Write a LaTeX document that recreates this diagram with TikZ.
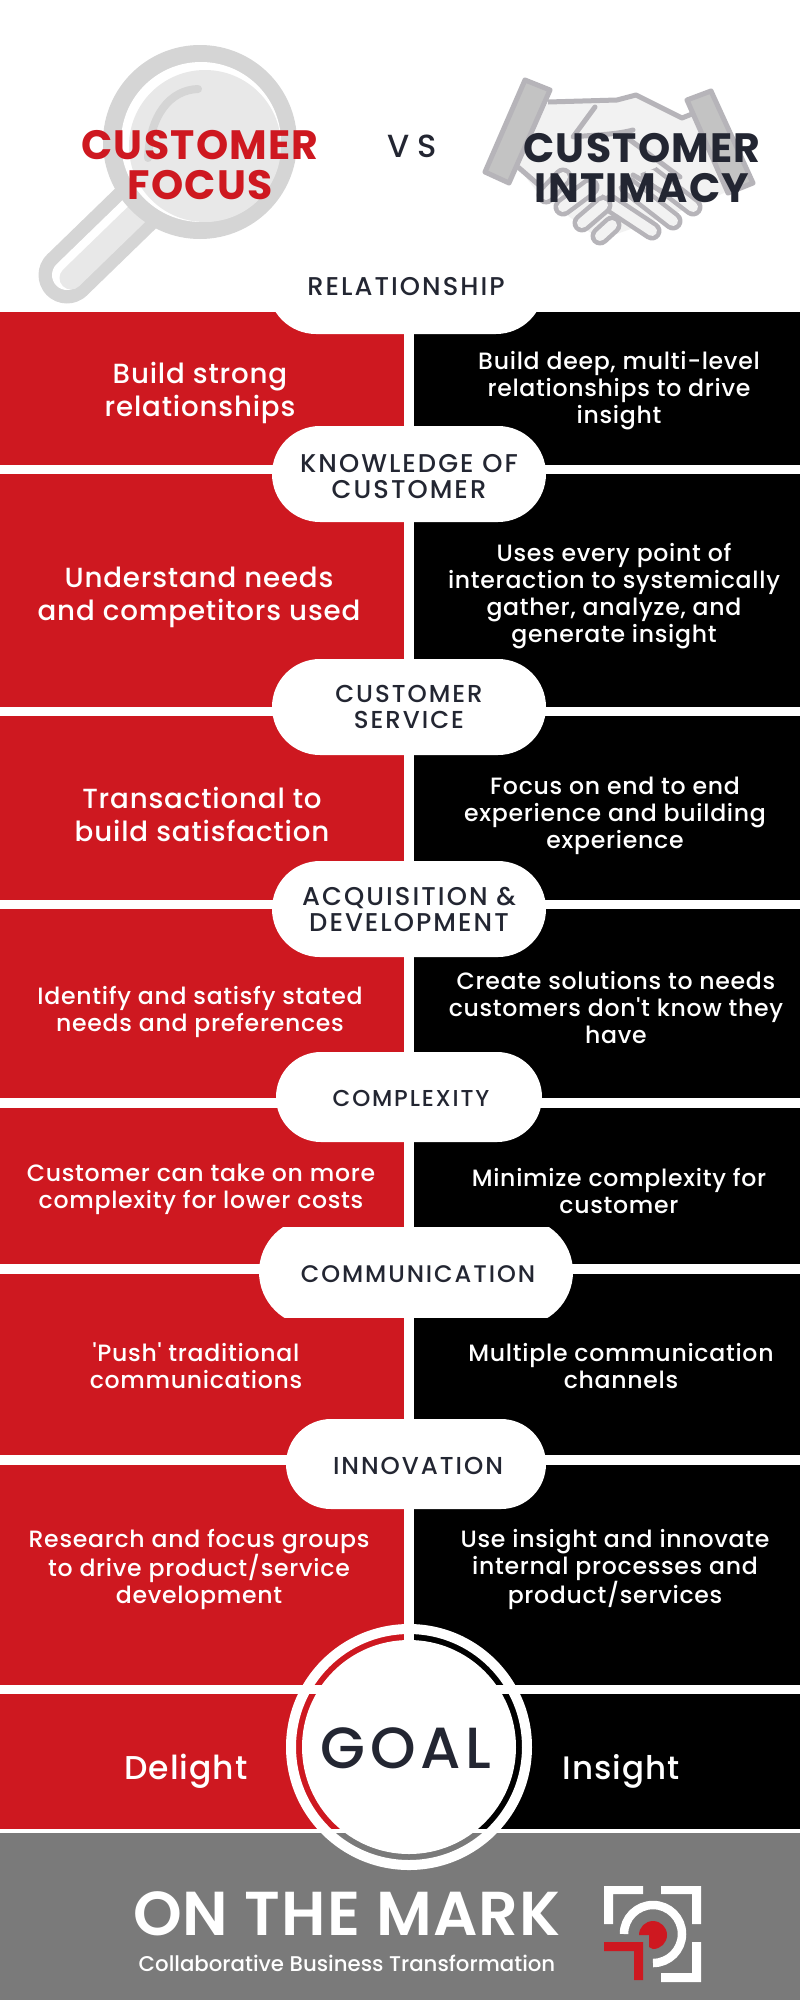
\documentclass[tikz,border=0pt]{standalone}
\usepackage{fontspec}
\setmainfont{Poppins}[UprightFont=* Medium,BoldFont=* Bold]
\definecolor{barred}{HTML}{CE1820}
\definecolor{inkdark}{HTML}{232632}
\definecolor{footgrey}{HTML}{7A7A7A}
\definecolor{lensrim}{HTML}{D5D5D5}
\definecolor{lensfill}{HTML}{E8E8E8}
\definecolor{handline}{HTML}{B6B4B9}
\definecolor{handfill}{HTML}{F2F2F2}
\definecolor{cufffill}{HTML}{C3C3C3}
\newfontfamily\trackfont{Poppins}[UprightFont=* Medium,BoldFont=* Bold,LetterSpace=3]
\newfontfamily\pillfont{Poppins}[UprightFont=* Medium,LetterSpace=8]
\newfontfamily\markfont{Poppins}[UprightFont=* SemiBold,LetterSpace=2]
\tikzset{
  pillbox/.style={fill=white,rounded corners=48pt,minimum height=96pt,inner sep=0pt},
  pilltext/.style={text=inkdark,align=center,inner sep=0pt,font=\pillfont\fontsize{#1}{26}\selectfont},
  pilltext/.default=24.5,
  bigtext/.style={text=white,align=center,inner sep=0pt,yshift=-3.5pt,font=\trackfont\fontsize{27.7}{33}\selectfont},
  smalltext/.style={text=white,align=center,inner sep=0pt,yshift=-2.5pt,font=\trackfont\fontsize{23.6}{27}\selectfont},
  headtext/.style={align=center,inner sep=0pt,font=\trackfont\bfseries\fontsize{41}{40.5}\selectfont},
  finger/.style={handline,line width=19pt,line cap=round},
  fingerin/.style={handfill,line width=10pt,line cap=round},
  logoline/.style={fill=white},
}
\begin{document}
\begin{tikzpicture}[x=1pt,y=-1pt]
    \useasboundingbox (0,0) rectangle (800,2000);
    \fill[white] (0,0) rectangle (800,2000);

    % magnifier
    \draw[lensrim,line width=57pt,line cap=round] (67,275) -- (135,209);
    \draw[white,line width=30pt,line cap=round] (67,275) -- (135,209);
    \draw[lensfill,line width=23pt,line cap=round] (71,278) -- (139,212);
    \fill[lensrim] (200,142) circle (97);
    \fill[white] (201,142) circle (80);
    \fill[lensfill] (205,146) circle (76);
    \draw[lensrim,line width=8pt,line cap=round] (198,89) .. controls (170,90) and (150,115) .. (148,158);

    % handshake
    \fill[handfill] (548,102) -- (617,100) -- (636,95) -- (682,118) -- (697,112) -- (730,190) -- (703,203) -- (600,240) -- (538,193) -- (518,167) -- cycle;
    \draw[finger] (650,174) -- (693,207);
    \draw[fingerin] (650,174) -- (693,207);
    \draw[finger] (628,186) -- (673,221);
    \draw[fingerin] (628,186) -- (673,221);
    \draw[finger] (608,202) -- (652,231);
    \draw[fingerin] (608,202) -- (652,231);
    \fill[handfill] (565,140) -- (640,125) -- (690,140) -- (655,168) -- (633,176) -- (606,196) -- (575,180) -- cycle;
    \draw[finger] (563,177) -- (546,195);
    \draw[fingerin] (563,177) -- (546,195);
    \draw[finger] (590,187) -- (563,207);
    \draw[fingerin] (590,187) -- (563,207);
    \draw[finger] (603,205) -- (582,223);
    \draw[fingerin] (603,205) -- (582,223);
    \draw[finger] (612,225) -- (600,236);
    \draw[fingerin] (612,225) -- (600,236);
    \draw[handline,line width=5pt,line join=round] (548,102) -- (617,100) -- (636,95) -- (682,118) -- (697,112);
    \draw[handline,line width=5pt,line join=round,line cap=round] (595,107) -- (573,137) .. controls (590,135) and (615,135) .. (633,130);
    \draw[handline,line width=5pt,line cap=round] (630,140) -- (680,177);
    \draw[handline,line width=5pt,line cap=round] (633,175) -- (663,192);
    \draw[handline,line width=5pt] (518,167) -- (540,186);
    \draw[handline,line width=5pt] (700,125) -- (732,190);
    \draw[handline,fill=cufffill,line width=5pt,line join=round] (525,80) -- (550,90) -- (509,183) -- (485,172) -- cycle;
    \draw[handline,fill=cufffill,line width=5pt,line join=round] (687,100) -- (711,91) -- (753,183) -- (728,193) -- cycle;

    % titles
    \node (focus) [headtext,text=barred] at (200,165) {CUSTOMER\\FOCUS};
    \node (vs) [text=inkdark,font=\fontsize{32}{33}\selectfont] at (412,146) {V S};
    \node (intimacy) [headtext,text=inkdark] at (642,168) {CUSTOMER\\INTIMACY};

    % rows
    \fill[barred] (0,312) rectangle (404,465);
    \fill[barred] (0,474) rectangle (404,707);
    \fill[barred] (0,716) rectangle (404,900);
    \fill[barred] (0,909) rectangle (404,1098);
    \fill[barred] (0,1108) rectangle (404,1264);
    \fill[barred] (0,1274) rectangle (404,1455);
    \fill[barred] (0,1465) rectangle (404,1685);
    \fill[barred] (0,1694) rectangle (404,1829);
    \fill[black] (414,312) rectangle (800,465);
    \fill[black] (414,474) rectangle (800,707);
    \fill[black] (414,716) rectangle (800,900);
    \fill[black] (414,909) rectangle (800,1098);
    \fill[black] (414,1108) rectangle (800,1264);
    \fill[black] (414,1274) rectangle (800,1455);
    \fill[black] (414,1465) rectangle (800,1685);
    \fill[black] (414,1694) rectangle (800,1829);
    \fill[footgrey] (0,1833) rectangle (800,2000);

    % pills
    \node (relation) [pillbox,minimum width=276pt] at (406,286) {};
    \node (knowledge) [pillbox,minimum width=274pt] at (409,474) {};
    \node (service) [pillbox,minimum width=274pt] at (409,707) {};
    \node (acquire) [pillbox,minimum width=274pt] at (409,909) {};
    \node (complex) [pillbox,minimum width=266pt,minimum height=90pt,rounded corners=45pt] at (409,1097) {};
    \begin{scope}
      \clip (0,1227) rectangle (800,1317);
      \node (commun) [pillbox,minimum width=314pt,minimum height=108pt,rounded corners=54pt] at (416,1272) {};
    \end{scope}
    \node (innovate) [pillbox,minimum width=260pt,minimum height=90pt,rounded corners=45pt] at (416,1464) {};

    \node (reltext) [pilltext=25.7] at (406,287) {RELATIONSHIP};
    \node (knowtext) [pilltext=25.7] at (409,477) {KNOWLEDGE OF\\CUSTOMER};
    \node (servtext) [pilltext] at (409,707) {CUSTOMER\\SERVICE};
    \node (acqtext) [pilltext=25.7] at (409,909) {ACQUISITION \&\\DEVELOPMENT};
    \node (comtext) [pilltext=23] at (411,1098) {COMPLEXITY};
    \node (commtext) [pilltext=24] at (418,1274) {COMMUNICATION};
    \node (inntext) [pilltext] at (418,1466) {INNOVATION};

    % left texts
    \node (lrelation) [bigtext] at (200,389) {Build strong\\relationships};
    \node (lknow) [bigtext] at (199,594) {Understand needs\\and competitors used};
    \node (lservice) [bigtext] at (202,810.5) {Transactional to\\build satisfaction};
    \node (lacquire) [smalltext] at (200,1009.5) {Identify and satisfy stated\\needs and preferences};
    \node (lcomplex) [smalltext] at (201,1187) {Customer can take on more\\complexity for lower costs};
    \node (lcommun) [smalltext] at (196,1363.5) {'Push' traditional\\communications};
    \node (linnovate) [smalltext] at (199,1567) {Research and focus groups\\to drive product/service\\development};

    % right texts
    \node (rrelation) [smalltext] at (619,388) {Build deep, multi-level\\relationships to drive\\insight};
    \node (rknow) [smalltext] at (614,594) {Uses every point of\\interaction to systemically\\gather, analyze, and\\generate insight};
    \node (rservice) [smalltext] at (615,813) {Focus on end to end\\experience and building\\experience};
    \node (racquire) [smalltext] at (616,1005.5) {Create solutions to needs\\customers don't know they\\have};
    \node (rcomplex) [smalltext] at (619,1188) {Minimize complexity for\\customer};
    \node (rcommun) [smalltext] at (621,1363.5) {Multiple communication\\channels};
    \node (rinnovate) [smalltext] at (615,1567) {Use insight and innovate\\internal processes and\\product/services};

    % goal
    \fill[white,even odd rule] (409,1747) circle (123) (409,1747) circle (113);
    \fill[white] (409,1747) circle (107);
    \node (goal) [text=inkdark,inner sep=0pt,font=\pillfont\fontsize{58}{60}\selectfont] at (406,1748) {GOAL};
    \node (delight) [text=white,inner sep=0pt,font=\trackfont\fontsize{33}{35}\selectfont] at (186,1771) {Delight};
    \node (insight) [text=white,inner sep=0pt,font=\trackfont\fontsize{32.5}{35}\selectfont] at (621,1771) {Insight};

    % logo
    \node (mark) [text=white,inner sep=0pt,font=\markfont\fontsize{62}{65}\selectfont] at (347,1914) {ON THE MARK};
    \node (tagline) [text=white,inner sep=0pt,font=\fontsize{21.3}{23}\selectfont] at (347,1963) {Collaborative Business Transformation};
    \fill[logoline] (604,1886) -- (643,1886) -- (643,1894) -- (613,1894) -- (613,1924) -- (604,1924) -- cycle;
    \fill[logoline] (661,1886) -- (701,1886) -- (701,1924) -- (692,1924) -- (692,1894) -- (661,1894) -- cycle;
    \fill[logoline] (692,1942) -- (701,1942) -- (701,1982) -- (661,1982) -- (661,1973) -- (692,1973) -- cycle;
    \fill[barred] (604,1942) -- (643,1942) -- (643,1980) -- (634,1980) -- (634,1951) -- (604,1951) -- cycle;
    \draw[white,line width=8.5pt] (624,1934) arc[start angle=180,end angle=-90,radius=29pt];
    \fill[barred] (649,1935) -- (639,1935) arc[start angle=180,end angle=-90,radius=14pt] -- (649,1947) -- cycle;
\end{tikzpicture}
\end{document}
